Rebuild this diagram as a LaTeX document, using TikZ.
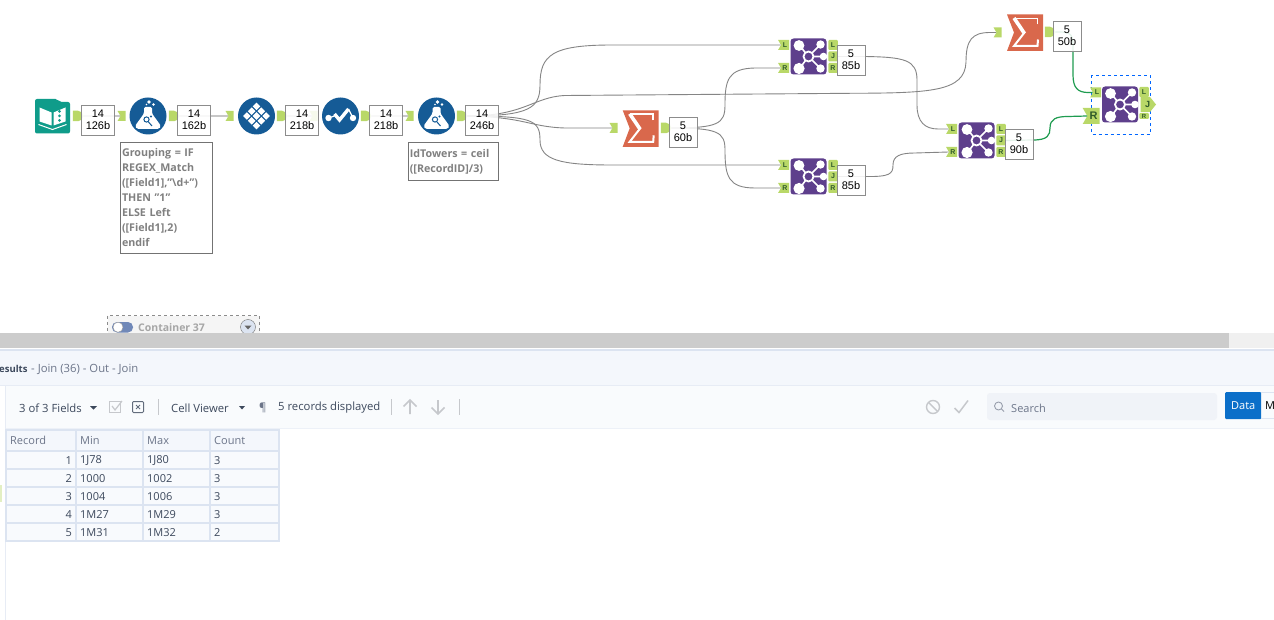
\documentclass[tikz,border=0pt]{standalone}
\usepackage{fontspec}
\setmainfont{Open Sans}
\newfontfamily\countfont{Liberation Sans}
\usetikzlibrary{shapes}
\definecolor{portgreen}{HTML}{B9D868}
\definecolor{portink}{HTML}{2F5A2A}
\definecolor{wiregray}{HTML}{858585}
\definecolor{wiregreen}{HTML}{1F9C50}
\definecolor{flaskblue}{HTML}{155B96}
\definecolor{joinpurple}{HTML}{5E3F8C}
\definecolor{sumred}{HTML}{D9684C}
\definecolor{bookteal}{HTML}{0F9C8A}
\definecolor{panelbg}{HTML}{F4F7FC}
\definecolor{panelline}{HTML}{DCE4F1}
\definecolor{panelink}{HTML}{3C485C}
\definecolor{mutedink}{HTML}{6C7589}
\definecolor{icongray}{HTML}{C6C8CC}
\definecolor{searchbg}{HTML}{F0F3F8}
\definecolor{datablue}{HTML}{0B6FC9}
\definecolor{togglegray}{HTML}{7088B8}
\tikzset{
	inport/.style={signal,signal from=west,signal to=nowhere,signal pointer angle=120,fill=portgreen,inner sep=0pt,minimum width=8pt,minimum height=10pt,text=portink,font=\countfont\bfseries\fontsize{7}{7}\selectfont},
	outport/.style={rounded rectangle,rounded rectangle left arc=none,fill=portgreen,inner sep=0pt,minimum width=7pt,minimum height=10.5pt},
	joinport/.style={rectangle,rounded corners=1pt,fill=portgreen,inner sep=0pt,minimum width=9.5pt,minimum height=10pt,text=portink,font=\countfont\bfseries\fontsize{7}{7}\selectfont},
	wire/.style={draw=wiregray,line width=0.9pt},
	thickwire/.style={draw=wiregray!70,line width=1.4pt},
	greenwire/.style={draw=wiregreen,line width=1.2pt},
	countbox/.style={draw=black!45,line width=1pt,fill=white,fill opacity=0.88,text opacity=1,inner sep=0pt,minimum height=30pt,align=center,font=\countfont\fontsize{11}{12.5}\selectfont},
	notebox/.style={draw=black!55,line width=0.7pt,fill=white,inner xsep=2pt,inner ysep=6.5pt,align=left,anchor=north west,text=black!50,font=\bfseries\fontsize{10.7}{15}\selectfont},
	toolcircle/.style={circle,fill=flaskblue,inner sep=0pt,minimum size=37pt},
	joinbox/.style={rectangle,rounded corners=3pt,fill=joinpurple,inner sep=0pt,minimum size=36pt},
	panelnote/.style={anchor=west,inner sep=0pt,text=panelink,font=\fontsize{11.3}{13}\selectfont},
	cellnote/.style={anchor=west,inner sep=0pt,text=panelink,font=\fontsize{11}{13}\selectfont},
	headnote/.style={anchor=west,inner sep=0pt,text=mutedink,font=\fontsize{11}{13}\selectfont},
	pics/flaskmark/.style={code={
		\fill[white,rounded corners=1.5pt] (-4,-9) -- (4,-9) -- (4,-2.5) -- (13,10) -- (11,13) -- (-11,13) -- (-13,10) -- (-4,-2.5) -- cycle;
		\fill[white] (1,-14) circle (1.9) (5.5,-11.5) circle (1.3) (-1.5,-11.5) circle (0.9);
		\draw[flaskblue,line width=1pt] (-1.5,3.5) circle (2.6);
		\draw[flaskblue,line width=1pt] (0.5,6) -- (4,10);
		\fill[flaskblue] (3,0.5) circle (1.1);
	}},
	pics/sortmark/.style={code={
		\foreach \i in {-1,0,1}
			\foreach \j in {-1,0,1}
				\fill[white,rotate=45] (6.8*\i-2.7,6.8*\j-2.7) rectangle (6.8*\i+2.7,6.8*\j+2.7);
	}},
	pics/tickmark/.style={code={
		\draw[white,line width=1.2pt] (-12,2) -- (-6,0) (8,-7) -- (12.5,2);
		\draw[white,line width=3.4pt] (-6,-2) -- (-1,4) -- (8,-7);
		\fill[white] (-12,2) circle (3.2) (12.5,2) circle (3.2);
	}},
	pics/summark/.style={code={
		\fill[sumred] (-18,-18) -- (18,-18) -- (18,18.5) -- (-18,18.5) -- (-11,0) -- cycle;
		\draw[white,line width=1.6pt] (12.5,-8) -- (12.5,-14) -- (-11,-14);
		\draw[white,line width=3.6pt] (-11,-14.5) -- (-0.5,1);
		\draw[white,line width=2pt] (-0.5,0) -- (-11,13.5) -- (12.5,13.5) -- (13,7);
	}},
	pics/joinmark/.style={code={
		\draw[white,line width=1.6pt] (-9,-11) -- (0,0) -- (12,-12) (-9,12) -- (0,0) -- (12,12) (0,0) -- (15,0);
		\fill[joinpurple] (0,0) circle (5.5);
		\draw[white,line width=1.8pt] (0,0) circle (5);
		\fill[white] (-9.5,-11) circle (5.4) (-9.5,12) circle (5.6) (12,-12) circle (4.2) (15,0) circle (3.8) (12,12) circle (4.2);
	}},
	pics/bookmark/.style={code={
		\fill[bookteal,rounded corners=2pt] (-17.5,-17.5) -- (5,-17.5) -- (7,-14.5) -- (17.5,-14.5) -- (17.5,17) -- (-17.5,17) -- cycle;
		\fill[white] (-13,-9) -- (-1,-4) -- (-1,9) -- (-13,5) -- cycle (1,-4) -- (13,-9) -- (13,5) -- (1,9) -- cycle;
		\draw[white,line width=1pt] (-14,8) -- (0,13) -- (14,8);
		\fill[bookteal] (7,-5) circle (1.5) (7,-0.5) circle (1.5) (7,4) circle (1.5);
	}},
}
\begin{document}
\begin{tikzpicture}[x=1pt,y=-1pt]
	\useasboundingbox (0,0) rectangle (1274,620);
	\fill[white] (0,0) rectangle (1274,620);
	\draw[blue!60!cyan,dashed,line width=0.8pt] (1091.5,75.5) rectangle (1150,134.5);
	% ports
	\foreach \name/\px/\py in {inB/123/116,inC/231/116,inD/315/116,inE/411/116,inSumA/615/128,inSumB/999/32.5}
		\node[inport] (\name) at (\px,\py) {};
	\foreach \name/\px/\py in {outA/78/116,outB/174/116,outC/282/116,outD/366/116,outE/462/116,outSumA/666/128,outSumB/1050/32}
		\node[outport] (\name) at (\px,\py) {};
	\foreach \name/\px/\py in {joinA/785/56.5,joinB/785/176.5,joinC/953/140.5}{
		\node[inport,minimum width=11pt] (\name L) at (\px,\py-11.5) {L};
		\node[inport,minimum width=11pt] (\name R) at (\px,\py+11.5) {R};
		\node[joinport] (\name oL) at (\px+48,\py-11.5) {L};
		\node[joinport] (\name oJ) at (\px+48,\py) {J};
		\node[joinport] (\name oR) at (\px+48,\py+11.5) {R};
	}
	\node[inport,minimum width=11pt] (joinDL) at (1097,92.5) {L};
	\node[inport,minimum width=17pt,minimum height=16pt,font=\countfont\bfseries\fontsize{11}{11}\selectfont] (joinDR) at (1093.5,116) {R};
	\node[joinport] (joinDoL) at (1144,92) {L};
	\fill[portgreen] (1140.5,97) -- (1150,97) -- (1156,104.5) -- (1150,112) -- (1140.5,112) -- cycle;
	\node[inner sep=0pt,text=portink,font=\countfont\bfseries\fontsize{9}{9}\selectfont] (joinDoJ) at (1147.5,104.5) {J};
	\node[joinport,minimum height=6pt,font=\countfont\bfseries\fontsize{6}{6}\selectfont] (joinDoR) at (1144,116) {R};
	% connectors
	\draw[thickwire] (outA) -- (inB);
	\draw[thickwire] (outB) -- (inC);
	\draw[thickwire] (outC) -- (inD);
	\draw[thickwire] (outD) -- (inE);
	\draw[wire] (outE.east) .. controls (530,116) and (540,108) .. (540,85) .. controls (540,55) and (552,45) .. (612,45) -- (joinAL.west);
	\draw[wire] (outE.east) .. controls (525,116) and (533,97) .. (565,95.5) -- (850,93.3) .. controls (930,93) and (965,92) .. (966,62) .. controls (966,40) and (972,32.5) .. (990,32.5) -- (inSumB.west);
	\draw[wire] (outE.east) .. controls (525,117) and (530,127) .. (565,128) -- (inSumA.west);
	\draw[wire] (outE.east) .. controls (532,116) and (540,120) .. (540,140) .. controls (540,160) and (560,165) .. (612,165) -- (joinBL.west);
	\draw[wire] (outSumA.east) .. controls (718,128) and (725,124) .. (725,105) .. controls (725,80) and (728,68.5) .. (755,68) -- (joinAR.west);
	\draw[wire] (outSumA.east) .. controls (718,128) and (725,132) .. (725,150) .. controls (725,176) and (728,188) .. (755,188) -- (joinBR.west);
	\draw[wire] (joinAoJ.east) -- (864,56.5) .. controls (905,57) and (917,60) .. (917,80) -- (917,105) .. controls (917,122) and (925,129) .. (938,129) -- (joinCL.west);
	\draw[wire] (joinBoJ.east) -- (864,176.5) .. controls (890,177) and (893,174) .. (893,165) .. controls (893,156) and (900,153) .. (915,153) -- (joinCR.west);
	\draw[greenwire] (joinCoJ.east) -- (1033,140) .. controls (1048,140) and (1050,135) .. (1050,128) .. controls (1050,119) and (1056,116.5) .. (1068,116.5) -- (joinDR.west);
	\draw[greenwire] (outSumB.east) -- (1060,32) .. controls (1072,32) and (1073,36) .. (1073,48) -- (1073,75) .. controls (1073,88) and (1078,92.5) .. (1088,92.5) -- (joinDL.west);
	% record counts
	\foreach \name/\px/\py/\boxw/\linea/\lineb in {countA/98/121/33/14/126b,countB/194/121/33/14/162b,countC/302/121/33/14/218b,countD/386/121/33/14/218b,countE/482/121/33/14/246b,countSumA/683/133/28/5/60b,countSumB/1067/37/28/5/50b,countJoinA/851/61/28/5/85b,countJoinB/851/181/28/5/85b,countJoinC/1019/145/28/5/90b}
		\node[countbox,minimum width=\boxw pt] (\name) at (\px,\py) {\linea\\\lineb\rule[-3pt]{0pt}{3pt}};
	% tools
	\node[inner sep=0pt,minimum size=35pt] (bookTool) at (52.5,116.5) {};
	\pic at (bookTool) {bookmark};
	\node[toolcircle] (formulaA) at (148,116) {};
	\pic at (formulaA) {flaskmark};
	\node[toolcircle] (sortTool) at (256.5,116) {};
	\pic at (sortTool) {sortmark};
	\node[toolcircle] (checkTool) at (340.5,116) {};
	\pic at (checkTool) {tickmark};
	\node[toolcircle] (formulaB) at (436.5,116) {};
	\pic at (formulaB) {flaskmark};
	\node[inner sep=0pt,minimum size=36pt] (sumA) at (640.7,128.3) {};
	\pic at (sumA) {summark};
	\node[inner sep=0pt,minimum size=36pt] (sumB) at (1025,32.5) {};
	\pic at (sumB) {summark};
	\foreach \name/\px/\py in {joinToolA/808.5/56.5,joinToolB/808.5/176.5,joinToolC/976.5/140.5,joinToolD/1120/104.5}{
		\node[joinbox] (\name) at (\px,\py) {};
		\pic at (\name) {joinmark};
	}
	% annotations
	\node[notebox,text width=88pt] (noteA) at (119.7,142) {Grouping = IF\\REGEX\_Match\\([Field1],"\textbackslash d+")\\THEN "1"\\ELSE Left\\([Field1],2)\\endif};
	\node[notebox,text width=86pt] (noteB) at (407.5,142.5) {IdTowers = ceil\\([RecordID]/3)};
	% container
	\draw[black!45,dashed,fill=black!4] (107.5,315.5) rectangle (259.5,340);
	\draw[black!55,fill=panelline] (248,327) circle (7.5);
	\fill[black!60] (244.5,325.5) -- (251.5,325.5) -- (248,329.5) -- cycle;
	\fill[togglegray,rounded corners=5pt] (112,322) rectangle (133,332.5);
	\draw[black!40,fill=white] (118,327.2) circle (5);
	\node[anchor=west,inner sep=0pt,text=black!35,font=\bfseries\fontsize{10.5}{12}\selectfont] (containerName) at (138,327.5) {Container 37};
	% results panel
	\fill[black!20] (0,333) rectangle (1229,348);
	\fill[black!6] (1229,333) rectangle (1274,348);
	\fill[white] (0,348) rectangle (1274,620);
	\fill[panelbg] (0,350) rectangle (1274,385);
	\fill[panelline] (0,348.5) rectangle (1274,350.5);
	\fill[panelline!70] (0,385) rectangle (1274,386);
	\fill[panelbg!50] (5,386) rectangle (1274,428);
	\fill[panelline!50] (5,428) rectangle (1274,429);
	\fill[panelline!70] (5,386) rectangle (6,620);
	\fill[portgreen!40] (0,485) rectangle (2,502);
	\node[anchor=west,inner sep=0pt,text=panelink,font=\bfseries\fontsize{9.5}{12}\selectfont] (resultsTitle) at (-1,369) {esults};
	\node[anchor=west,inner sep=0pt,text=mutedink,font=\fontsize{11.3}{13}\selectfont] (resultsPath) at (31,369) {- Join (36) - Out - Join};
	% toolbar
	\node[panelnote] (fieldCount) at (19,408) {3 of 3 Fields};
	\fill[panelink] (90,406) -- (97,406) -- (93.5,409.5) -- cycle;
	\draw[icongray,line width=1pt] (109.5,401.5) rectangle (120.5,412.5);
	\draw[icongray,line width=1.2pt] (112,406) -- (115,410) -- (122,401);
	\draw[panelink!80,rounded corners=1pt,line width=1pt] (132.5,401.5) rectangle (143.5,412.5);
	\draw[panelink!80,line width=1pt] (136,405) -- (140,409) (140,405) -- (136,409);
	\draw[icongray] (158.5,399) -- (158.5,415);
	\node[panelnote] (cellViewer) at (171,408) {Cell Viewer};
	\fill[panelink] (239,406) -- (245,406) -- (242,409.5) -- cycle;
	\node[panelnote,text=mutedink] (pilcrow) at (259,408) {¶};
	\node[panelnote] (recordCount) at (278,408) {5 records displayed};
	\draw[icongray] (391.5,399) -- (391.5,415);
	\draw[icongray,line width=1.6pt] (410,414) -- (410,400) (403.5,406.5) -- (410,400) -- (416.5,406.5);
	\draw[icongray,line width=1.6pt] (438,400) -- (438,414) (431.5,407.5) -- (438,414) -- (444.5,407.5);
	\draw[icongray] (459.5,399) -- (459.5,415);
	\draw[icongray,line width=1.4pt] (933,407) circle (6.5);
	\draw[icongray,line width=1.4pt] (928.5,402.5) -- (937.5,411.5);
	\draw[icongray,line width=1.5pt] (954.5,408) -- (959,412.5) -- (968,400.5);
	\fill[searchbg,rounded corners=3pt] (987,393) rectangle (1217,420);
	\draw[mutedink!70,line width=0.9pt] (998.5,406) circle (4);
	\draw[mutedink!70,line width=0.9pt] (1001.5,409) -- (1004,411.5);
	\node[panelnote,text=mutedink,font=\fontsize{11}{13}\selectfont] (searchBox) at (1011,408.5) {Search};
	\node[anchor=north west,inner sep=0pt,minimum width=36pt,minimum height=27pt,rounded corners=1pt,fill=datablue,text=white,font=\fontsize{11}{12}\selectfont] (dataTab) at (1225,392) {Data};
	\node[anchor=west,inner sep=0pt,text=black,font=\fontsize{11}{12}\selectfont] (nextTab) at (1265,406) {M};
	\draw[panelline] (1261,392.5) -- (1274,392.5) (1261,418.5) -- (1274,418.5);
	% table
	\foreach \xa/\xb in {6/76,76/143,143/210,210/279}
		\draw[panelline,line width=1.4pt,fill=panelbg] (\xa,430) rectangle (\xb,451);
	\foreach \ya/\yb in {451/469,469/487,487/505,505/523,523/541}
		\foreach \xa/\xb in {6/76,76/143,143/210,210/279}
			\draw[panelline,line width=1.4pt,fill=panelbg!60] (\xa,\ya) rectangle (\xb,\yb);
	\node[headnote] (headRecord) at (10,440.5) {Record};
	\node[headnote] (headMin) at (80,440.5) {Min};
	\node[headnote] (headMax) at (147,440.5) {Max};
	\node[headnote] (headCount) at (214,440.5) {Count};
	\foreach \py/\rec/\minval/\maxval/\cnt in {461/1/1J78/1J80/3,479/2/1000/1002/3,497/3/1004/1006/3,515/4/1M27/1M29/3,533/5/1M31/1M32/2}{
		\node[cellnote,anchor=east] (rec\rec) at (72,\py) {\rec};
		\node[cellnote] (min\rec) at (80,\py) {\minval};
		\node[cellnote] (max\rec) at (147,\py) {\maxval};
		\node[cellnote] (count\rec) at (214,\py) {\cnt};
	}
\end{tikzpicture}
\end{document}
